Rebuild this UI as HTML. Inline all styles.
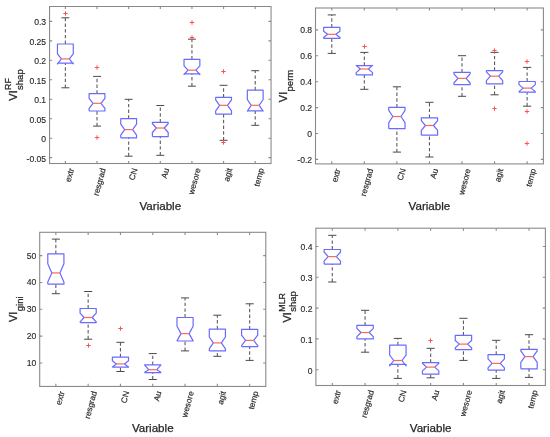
<!DOCTYPE html>
<html><head><meta charset="utf-8"><title>Boxplots</title>
<style>
html,body{margin:0;padding:0;background:#fff;}
svg{display:block;}
text{font-family:"Liberation Sans",Arial,sans-serif;fill:#262626;stroke:#262626;stroke-width:0.25px;}
text.xt{stroke-width:0.15px;}
text.yt{stroke-width:0.12px;}
</style></head>
<body>
<svg width="550" height="437" viewBox="0 0 550 437">
<defs><filter id="soft" x="0" y="0" width="100%" height="100%"><feGaussianBlur stdDeviation="0.25"/></filter></defs>
<rect width="550" height="437" fill="#fff"/>
<g filter="url(#soft)">
<line x1="65.37" y1="44" x2="65.37" y2="17.8" stroke="#5c5c5c" stroke-width="1.1" stroke-dasharray="3.4 2.3"/>
<line x1="65.37" y1="87.8" x2="65.37" y2="63.2" stroke="#5c5c5c" stroke-width="1.1" stroke-dasharray="3.4 2.3"/>
<line x1="61.42" y1="17.8" x2="69.33" y2="17.8" stroke="#4a4a4a" stroke-width="1"/>
<line x1="61.42" y1="87.8" x2="69.33" y2="87.8" stroke="#4a4a4a" stroke-width="1"/>
<polyline points="57.46,63.2 57.46,63.9 61.42,58.9 57.46,53.9 57.46,44 73.28,44 73.28,53.9 69.33,58.9 73.28,63.9 73.28,63.2 57.46,63.2" fill="none" stroke="#6a6aff" stroke-width="1.2" stroke-linejoin="round"/>
<line x1="61.42" y1="58.9" x2="69.33" y2="58.9" stroke="#ff6858" stroke-width="1.2"/>
<path d="M63.3 13.5H67.7M65.5 11.3V15.7" stroke="#ff5050" stroke-width="1" fill="none"/>
<line x1="97.01" y1="93.6" x2="97.01" y2="76.4" stroke="#5c5c5c" stroke-width="1.1" stroke-dasharray="3.4 2.3"/>
<line x1="97.01" y1="126.1" x2="97.01" y2="111" stroke="#5c5c5c" stroke-width="1.1" stroke-dasharray="3.4 2.3"/>
<line x1="93.06" y1="76.4" x2="100.97" y2="76.4" stroke="#4a4a4a" stroke-width="1"/>
<line x1="93.06" y1="126.1" x2="100.97" y2="126.1" stroke="#4a4a4a" stroke-width="1"/>
<polyline points="89.1,111 89.1,108.3 93.06,103.3 89.1,98.3 89.1,93.6 104.92,93.6 104.92,98.3 100.97,103.3 104.92,108.3 104.92,111 89.1,111" fill="none" stroke="#6a6aff" stroke-width="1.2" stroke-linejoin="round"/>
<line x1="93.06" y1="103.3" x2="100.97" y2="103.3" stroke="#ff6858" stroke-width="1.2"/>
<path d="M94.8 67.5H99.2M97 65.3V69.7" stroke="#ff5050" stroke-width="1" fill="none"/>
<path d="M94.8 137.5H99.2M97 135.3V139.7" stroke="#ff5050" stroke-width="1" fill="none"/>
<line x1="128.66" y1="118.7" x2="128.66" y2="99.3" stroke="#5c5c5c" stroke-width="1.1" stroke-dasharray="3.4 2.3"/>
<line x1="128.66" y1="156.2" x2="128.66" y2="137.8" stroke="#5c5c5c" stroke-width="1.1" stroke-dasharray="3.4 2.3"/>
<line x1="124.7" y1="99.3" x2="132.61" y2="99.3" stroke="#4a4a4a" stroke-width="1"/>
<line x1="124.7" y1="156.2" x2="132.61" y2="156.2" stroke="#4a4a4a" stroke-width="1"/>
<polyline points="120.75,137.8 120.75,135.1 124.7,129.6 120.75,124.1 120.75,118.7 136.57,118.7 136.57,124.1 132.61,129.6 136.57,135.1 136.57,137.8 120.75,137.8" fill="none" stroke="#6a6aff" stroke-width="1.2" stroke-linejoin="round"/>
<line x1="124.7" y1="129.6" x2="132.61" y2="129.6" stroke="#ff6858" stroke-width="1.2"/>
<line x1="160.3" y1="122.4" x2="160.3" y2="105.5" stroke="#5c5c5c" stroke-width="1.1" stroke-dasharray="3.4 2.3"/>
<line x1="160.3" y1="155.3" x2="160.3" y2="136.6" stroke="#5c5c5c" stroke-width="1.1" stroke-dasharray="3.4 2.3"/>
<line x1="156.34" y1="105.5" x2="164.26" y2="105.5" stroke="#4a4a4a" stroke-width="1"/>
<line x1="156.34" y1="155.3" x2="164.26" y2="155.3" stroke="#4a4a4a" stroke-width="1"/>
<polyline points="152.39,136.6 152.39,132.5 156.34,128 152.39,123.5 152.39,122.4 168.21,122.4 168.21,123.5 164.26,128 168.21,132.5 168.21,136.6 152.39,136.6" fill="none" stroke="#6a6aff" stroke-width="1.2" stroke-linejoin="round"/>
<line x1="156.34" y1="128" x2="164.26" y2="128" stroke="#ff6858" stroke-width="1.2"/>
<line x1="191.94" y1="59.3" x2="191.94" y2="39.2" stroke="#5c5c5c" stroke-width="1.1" stroke-dasharray="3.4 2.3"/>
<line x1="191.94" y1="86.2" x2="191.94" y2="73.8" stroke="#5c5c5c" stroke-width="1.1" stroke-dasharray="3.4 2.3"/>
<line x1="187.99" y1="39.2" x2="195.9" y2="39.2" stroke="#4a4a4a" stroke-width="1"/>
<line x1="187.99" y1="86.2" x2="195.9" y2="86.2" stroke="#4a4a4a" stroke-width="1"/>
<polyline points="184.03,73.8 184.03,74.5 187.99,70.2 184.03,65.9 184.03,59.3 199.85,59.3 199.85,65.9 195.9,70.2 199.85,74.5 199.85,73.8 184.03,73.8" fill="none" stroke="#6a6aff" stroke-width="1.2" stroke-linejoin="round"/>
<line x1="187.99" y1="70.2" x2="195.9" y2="70.2" stroke="#ff6858" stroke-width="1.2"/>
<path d="M189.8 22.5H194.2M192 20.3V24.7" stroke="#ff5050" stroke-width="1" fill="none"/>
<path d="M189.8 37.5H194.2M192 35.3V39.7" stroke="#ff5050" stroke-width="1" fill="none"/>
<line x1="223.59" y1="97.4" x2="223.59" y2="85.3" stroke="#5c5c5c" stroke-width="1.1" stroke-dasharray="3.4 2.3"/>
<line x1="223.59" y1="140.3" x2="223.59" y2="114.2" stroke="#5c5c5c" stroke-width="1.1" stroke-dasharray="3.4 2.3"/>
<line x1="219.63" y1="85.3" x2="227.54" y2="85.3" stroke="#4a4a4a" stroke-width="1"/>
<line x1="219.63" y1="140.3" x2="227.54" y2="140.3" stroke="#4a4a4a" stroke-width="1"/>
<polyline points="215.68,114.2 215.68,110.8 219.63,105.3 215.68,99.8 215.68,97.4 231.5,97.4 231.5,99.8 227.54,105.3 231.5,110.8 231.5,114.2 215.68,114.2" fill="none" stroke="#6a6aff" stroke-width="1.2" stroke-linejoin="round"/>
<line x1="219.63" y1="105.3" x2="227.54" y2="105.3" stroke="#ff6858" stroke-width="1.2"/>
<path d="M221.3 71.5H225.7M223.5 69.3V73.7" stroke="#ff5050" stroke-width="1" fill="none"/>
<path d="M221.3 142.5H225.7M223.5 140.3V144.7" stroke="#ff5050" stroke-width="1" fill="none"/>
<line x1="255.23" y1="90.2" x2="255.23" y2="70.7" stroke="#5c5c5c" stroke-width="1.1" stroke-dasharray="3.4 2.3"/>
<line x1="255.23" y1="125.3" x2="255.23" y2="110.9" stroke="#5c5c5c" stroke-width="1.1" stroke-dasharray="3.4 2.3"/>
<line x1="251.27" y1="70.7" x2="259.18" y2="70.7" stroke="#4a4a4a" stroke-width="1"/>
<line x1="251.27" y1="125.3" x2="259.18" y2="125.3" stroke="#4a4a4a" stroke-width="1"/>
<polyline points="247.32,110.9 247.32,111.1 251.27,105.3 247.32,99.5 247.32,90.2 263.14,90.2 263.14,99.5 259.18,105.3 263.14,111.1 263.14,110.9 247.32,110.9" fill="none" stroke="#6a6aff" stroke-width="1.2" stroke-linejoin="round"/>
<line x1="251.27" y1="105.3" x2="259.18" y2="105.3" stroke="#ff6858" stroke-width="1.2"/>
<rect x="49.55" y="6.45" width="221.5" height="157.05" fill="none" stroke="#8a8a8a" stroke-width="1.1"/>
<path d="M65.37 163.5V160.9M65.37 6.45V9.05M97.01 163.5V160.9M97.01 6.45V9.05M128.66 163.5V160.9M128.66 6.45V9.05M160.3 163.5V160.9M160.3 6.45V9.05M191.94 163.5V160.9M191.94 6.45V9.05M223.59 163.5V160.9M223.59 6.45V9.05M255.23 163.5V160.9M255.23 6.45V9.05M49.55 157.67H52.15M271.05 157.67H268.45M49.55 138.2H52.15M271.05 138.2H268.45M49.55 118.73H52.15M271.05 118.73H268.45M49.55 99.26H52.15M271.05 99.26H268.45M49.55 79.79H52.15M271.05 79.79H268.45M49.55 60.32H52.15M271.05 60.32H268.45M49.55 40.85H52.15M271.05 40.85H268.45M49.55 21.38H52.15M271.05 21.38H268.45" stroke="#8a8a8a" stroke-width="1.1" fill="none"/>
<text class="yt" x="46.15" y="161.57" text-anchor="end" font-size="8.6">-0.05</text>
<text class="yt" x="46.15" y="142.1" text-anchor="end" font-size="8.6">0</text>
<text class="yt" x="46.15" y="122.63" text-anchor="end" font-size="8.6">0.05</text>
<text class="yt" x="46.15" y="103.16" text-anchor="end" font-size="8.6">0.1</text>
<text class="yt" x="46.15" y="83.69" text-anchor="end" font-size="8.6">0.15</text>
<text class="yt" x="46.15" y="64.22" text-anchor="end" font-size="8.6">0.2</text>
<text class="yt" x="46.15" y="44.75" text-anchor="end" font-size="8.6">0.25</text>
<text class="yt" x="46.15" y="25.28" text-anchor="end" font-size="8.6">0.3</text>
<text class="xt" transform="translate(74.17 169.1) rotate(-75)" text-anchor="end" font-size="8.3">extr</text>
<text class="xt" transform="translate(105.81 169.1) rotate(-75)" text-anchor="end" font-size="8.3">resgrad</text>
<text class="xt" transform="translate(137.46 169.1) rotate(-75)" text-anchor="end" font-size="8.3">CN</text>
<text class="xt" transform="translate(169.1 169.1) rotate(-75)" text-anchor="end" font-size="8.3">Au</text>
<text class="xt" transform="translate(200.74 169.1) rotate(-75)" text-anchor="end" font-size="8.3">wesore</text>
<text class="xt" transform="translate(232.39 169.1) rotate(-75)" text-anchor="end" font-size="8.3">agit</text>
<text class="xt" transform="translate(264.03 169.1) rotate(-75)" text-anchor="end" font-size="8.3">temp</text>
<text x="160.3" y="210.1" text-anchor="middle" font-size="11.6">Variable</text>
<text transform="translate(17 100.7) rotate(-90)" font-size="11.0" style="stroke-width:0.3px">VI</text>
<text transform="translate(11.4 89.91) rotate(-90)" font-size="8.9">RF</text>
<text transform="translate(22.6 89.91) rotate(-90)" font-size="9.5">shap</text>
<line x1="331.78" y1="27.4" x2="331.78" y2="14.9" stroke="#5c5c5c" stroke-width="1.1" stroke-dasharray="3.4 2.3"/>
<line x1="331.78" y1="53.4" x2="331.78" y2="38.4" stroke="#5c5c5c" stroke-width="1.1" stroke-dasharray="3.4 2.3"/>
<line x1="327.71" y1="14.9" x2="335.85" y2="14.9" stroke="#4a4a4a" stroke-width="1"/>
<line x1="327.71" y1="53.4" x2="335.85" y2="53.4" stroke="#4a4a4a" stroke-width="1"/>
<polyline points="323.64,38.4 323.64,37.4 327.71,34.3 323.64,31.2 323.64,27.4 339.92,27.4 339.92,31.2 335.85,34.3 339.92,37.4 339.92,38.4 323.64,38.4" fill="none" stroke="#6a6aff" stroke-width="1.2" stroke-linejoin="round"/>
<line x1="327.71" y1="34.3" x2="335.85" y2="34.3" stroke="#ff6858" stroke-width="1.2"/>
<line x1="364.34" y1="65.6" x2="364.34" y2="52.4" stroke="#5c5c5c" stroke-width="1.1" stroke-dasharray="3.4 2.3"/>
<line x1="364.34" y1="89.3" x2="364.34" y2="74.9" stroke="#5c5c5c" stroke-width="1.1" stroke-dasharray="3.4 2.3"/>
<line x1="360.27" y1="52.4" x2="368.41" y2="52.4" stroke="#4a4a4a" stroke-width="1"/>
<line x1="360.27" y1="89.3" x2="368.41" y2="89.3" stroke="#4a4a4a" stroke-width="1"/>
<polyline points="356.2,74.9 356.2,72.6 360.27,69 356.2,65.4 356.2,65.6 372.48,65.6 372.48,65.4 368.41,69 372.48,72.6 372.48,74.9 356.2,74.9" fill="none" stroke="#6a6aff" stroke-width="1.2" stroke-linejoin="round"/>
<line x1="360.27" y1="69" x2="368.41" y2="69" stroke="#ff6858" stroke-width="1.2"/>
<path d="M362.3 46.5H366.7M364.5 44.3V48.7" stroke="#ff5050" stroke-width="1" fill="none"/>
<line x1="396.89" y1="107.4" x2="396.89" y2="86.8" stroke="#5c5c5c" stroke-width="1.1" stroke-dasharray="3.4 2.3"/>
<line x1="396.89" y1="152.1" x2="396.89" y2="128.7" stroke="#5c5c5c" stroke-width="1.1" stroke-dasharray="3.4 2.3"/>
<line x1="392.82" y1="86.8" x2="400.96" y2="86.8" stroke="#4a4a4a" stroke-width="1"/>
<line x1="392.82" y1="152.1" x2="400.96" y2="152.1" stroke="#4a4a4a" stroke-width="1"/>
<polyline points="388.75,128.7 388.75,122.7 392.82,116.5 388.75,110.3 388.75,107.4 405.03,107.4 405.03,110.3 400.96,116.5 405.03,122.7 405.03,128.7 388.75,128.7" fill="none" stroke="#6a6aff" stroke-width="1.2" stroke-linejoin="round"/>
<line x1="392.82" y1="116.5" x2="400.96" y2="116.5" stroke="#ff6858" stroke-width="1.2"/>
<line x1="429.45" y1="117.8" x2="429.45" y2="102.3" stroke="#5c5c5c" stroke-width="1.1" stroke-dasharray="3.4 2.3"/>
<line x1="429.45" y1="157" x2="429.45" y2="135.2" stroke="#5c5c5c" stroke-width="1.1" stroke-dasharray="3.4 2.3"/>
<line x1="425.38" y1="102.3" x2="433.52" y2="102.3" stroke="#4a4a4a" stroke-width="1"/>
<line x1="425.38" y1="157" x2="433.52" y2="157" stroke="#4a4a4a" stroke-width="1"/>
<polyline points="421.31,135.2 421.31,130.4 425.38,125.5 421.31,120.6 421.31,117.8 437.59,117.8 437.59,120.6 433.52,125.5 437.59,130.4 437.59,135.2 421.31,135.2" fill="none" stroke="#6a6aff" stroke-width="1.2" stroke-linejoin="round"/>
<line x1="425.38" y1="125.5" x2="433.52" y2="125.5" stroke="#ff6858" stroke-width="1.2"/>
<line x1="462.01" y1="72.3" x2="462.01" y2="55.7" stroke="#5c5c5c" stroke-width="1.1" stroke-dasharray="3.4 2.3"/>
<line x1="462.01" y1="96.3" x2="462.01" y2="84.6" stroke="#5c5c5c" stroke-width="1.1" stroke-dasharray="3.4 2.3"/>
<line x1="457.94" y1="55.7" x2="466.08" y2="55.7" stroke="#4a4a4a" stroke-width="1"/>
<line x1="457.94" y1="96.3" x2="466.08" y2="96.3" stroke="#4a4a4a" stroke-width="1"/>
<polyline points="453.87,84.6 453.87,83 457.94,78.4 453.87,73.8 453.87,72.3 470.15,72.3 470.15,73.8 466.08,78.4 470.15,83 470.15,84.6 453.87,84.6" fill="none" stroke="#6a6aff" stroke-width="1.2" stroke-linejoin="round"/>
<line x1="457.94" y1="78.4" x2="466.08" y2="78.4" stroke="#ff6858" stroke-width="1.2"/>
<line x1="494.56" y1="70.7" x2="494.56" y2="52.4" stroke="#5c5c5c" stroke-width="1.1" stroke-dasharray="3.4 2.3"/>
<line x1="494.56" y1="94.8" x2="494.56" y2="83.9" stroke="#5c5c5c" stroke-width="1.1" stroke-dasharray="3.4 2.3"/>
<line x1="490.49" y1="52.4" x2="498.63" y2="52.4" stroke="#4a4a4a" stroke-width="1"/>
<line x1="490.49" y1="94.8" x2="498.63" y2="94.8" stroke="#4a4a4a" stroke-width="1"/>
<polyline points="486.42,83.9 486.42,80.6 490.49,76.2 486.42,71.8 486.42,70.7 502.7,70.7 502.7,71.8 498.63,76.2 502.7,80.6 502.7,83.9 486.42,83.9" fill="none" stroke="#6a6aff" stroke-width="1.2" stroke-linejoin="round"/>
<line x1="490.49" y1="76.2" x2="498.63" y2="76.2" stroke="#ff6858" stroke-width="1.2"/>
<path d="M492.3 50.5H496.7M494.5 48.3V52.7" stroke="#ff5050" stroke-width="1" fill="none"/>
<path d="M492.3 108.5H496.7M494.5 106.3V110.7" stroke="#ff5050" stroke-width="1" fill="none"/>
<line x1="527.12" y1="81.5" x2="527.12" y2="67.4" stroke="#5c5c5c" stroke-width="1.1" stroke-dasharray="3.4 2.3"/>
<line x1="527.12" y1="106.2" x2="527.12" y2="92.2" stroke="#5c5c5c" stroke-width="1.1" stroke-dasharray="3.4 2.3"/>
<line x1="523.05" y1="67.4" x2="531.19" y2="67.4" stroke="#4a4a4a" stroke-width="1"/>
<line x1="523.05" y1="106.2" x2="531.19" y2="106.2" stroke="#4a4a4a" stroke-width="1"/>
<polyline points="518.98,92.2 518.98,91.6 523.05,88.1 518.98,84.6 518.98,81.5 535.26,81.5 535.26,84.6 531.19,88.1 535.26,91.6 535.26,92.2 518.98,92.2" fill="none" stroke="#6a6aff" stroke-width="1.2" stroke-linejoin="round"/>
<line x1="523.05" y1="88.1" x2="531.19" y2="88.1" stroke="#ff6858" stroke-width="1.2"/>
<path d="M524.8 61.5H529.2M527 59.3V63.7" stroke="#ff5050" stroke-width="1" fill="none"/>
<path d="M524.8 111.5H529.2M527 109.3V113.7" stroke="#ff5050" stroke-width="1" fill="none"/>
<path d="M524.8 143.5H529.2M527 141.3V145.7" stroke="#ff5050" stroke-width="1" fill="none"/>
<rect x="315.5" y="8" width="227.9" height="155.9" fill="none" stroke="#8a8a8a" stroke-width="1.1"/>
<path d="M331.78 163.9V161.3M331.78 8V10.6M364.34 163.9V161.3M364.34 8V10.6M396.89 163.9V161.3M396.89 8V10.6M429.45 163.9V161.3M429.45 8V10.6M462.01 163.9V161.3M462.01 8V10.6M494.56 163.9V161.3M494.56 8V10.6M527.12 163.9V161.3M527.12 8V10.6M315.5 159.4H318.1M543.4 159.4H540.8M315.5 133.5H318.1M543.4 133.5H540.8M315.5 107.6H318.1M543.4 107.6H540.8M315.5 81.7H318.1M543.4 81.7H540.8M315.5 55.8H318.1M543.4 55.8H540.8M315.5 29.9H318.1M543.4 29.9H540.8" stroke="#8a8a8a" stroke-width="1.1" fill="none"/>
<text class="yt" x="312.1" y="162.5" text-anchor="end" font-size="8.6">-0.2</text>
<text class="yt" x="312.1" y="136.6" text-anchor="end" font-size="8.6">0</text>
<text class="yt" x="312.1" y="110.7" text-anchor="end" font-size="8.6">0.2</text>
<text class="yt" x="312.1" y="84.8" text-anchor="end" font-size="8.6">0.4</text>
<text class="yt" x="312.1" y="58.9" text-anchor="end" font-size="8.6">0.6</text>
<text class="yt" x="312.1" y="33" text-anchor="end" font-size="8.6">0.8</text>
<text class="xt" transform="translate(340.58 169.5) rotate(-75)" text-anchor="end" font-size="8.3">extr</text>
<text class="xt" transform="translate(373.14 169.5) rotate(-75)" text-anchor="end" font-size="8.3">resgrad</text>
<text class="xt" transform="translate(405.69 169.5) rotate(-75)" text-anchor="end" font-size="8.3">CN</text>
<text class="xt" transform="translate(438.25 169.5) rotate(-75)" text-anchor="end" font-size="8.3">Au</text>
<text class="xt" transform="translate(470.81 169.5) rotate(-75)" text-anchor="end" font-size="8.3">wesore</text>
<text class="xt" transform="translate(503.36 169.5) rotate(-75)" text-anchor="end" font-size="8.3">agit</text>
<text class="xt" transform="translate(535.92 169.5) rotate(-75)" text-anchor="end" font-size="8.3">temp</text>
<text x="429.45" y="209.9" text-anchor="middle" font-size="11.6">Variable</text>
<text transform="translate(287.4 102.2) rotate(-90)" font-size="11.0" style="stroke-width:0.3px">VI</text>
<text transform="translate(293 91.41) rotate(-90)" font-size="9.5">perm</text>
<line x1="55.85" y1="253.9" x2="55.85" y2="239.1" stroke="#5c5c5c" stroke-width="1.1" stroke-dasharray="3.4 2.3"/>
<line x1="55.85" y1="293.7" x2="55.85" y2="284.2" stroke="#5c5c5c" stroke-width="1.1" stroke-dasharray="3.4 2.3"/>
<line x1="51.81" y1="239.1" x2="59.89" y2="239.1" stroke="#4a4a4a" stroke-width="1"/>
<line x1="51.81" y1="293.7" x2="59.89" y2="293.7" stroke="#4a4a4a" stroke-width="1"/>
<polyline points="47.78,284.2 47.78,282 51.81,272.9 47.78,263.8 47.78,253.9 63.93,253.9 63.93,263.8 59.89,272.9 63.93,282 63.93,284.2 47.78,284.2" fill="none" stroke="#6a6aff" stroke-width="1.2" stroke-linejoin="round"/>
<line x1="51.81" y1="272.9" x2="59.89" y2="272.9" stroke="#ff6858" stroke-width="1.2"/>
<line x1="88.15" y1="308.5" x2="88.15" y2="291.5" stroke="#5c5c5c" stroke-width="1.1" stroke-dasharray="3.4 2.3"/>
<line x1="88.15" y1="339.2" x2="88.15" y2="322.6" stroke="#5c5c5c" stroke-width="1.1" stroke-dasharray="3.4 2.3"/>
<line x1="84.11" y1="291.5" x2="92.19" y2="291.5" stroke="#4a4a4a" stroke-width="1"/>
<line x1="84.11" y1="339.2" x2="92.19" y2="339.2" stroke="#4a4a4a" stroke-width="1"/>
<polyline points="80.08,322.6 80.08,321.8 84.11,317.5 80.08,313.2 80.08,308.5 96.23,308.5 96.23,313.2 92.19,317.5 96.23,321.8 96.23,322.6 80.08,322.6" fill="none" stroke="#6a6aff" stroke-width="1.2" stroke-linejoin="round"/>
<line x1="84.11" y1="317.5" x2="92.19" y2="317.5" stroke="#ff6858" stroke-width="1.2"/>
<path d="M86.3 345.5H90.7M88.5 343.3V347.7" stroke="#ff5050" stroke-width="1" fill="none"/>
<line x1="120.45" y1="357.1" x2="120.45" y2="342.3" stroke="#5c5c5c" stroke-width="1.1" stroke-dasharray="3.4 2.3"/>
<line x1="120.45" y1="371.5" x2="120.45" y2="367.2" stroke="#5c5c5c" stroke-width="1.1" stroke-dasharray="3.4 2.3"/>
<line x1="116.41" y1="342.3" x2="124.49" y2="342.3" stroke="#4a4a4a" stroke-width="1"/>
<line x1="116.41" y1="371.5" x2="124.49" y2="371.5" stroke="#4a4a4a" stroke-width="1"/>
<polyline points="112.38,367.2 112.38,367 116.41,363.9 112.38,360.8 112.38,357.1 128.53,357.1 128.53,360.8 124.49,363.9 128.53,367 128.53,367.2 112.38,367.2" fill="none" stroke="#6a6aff" stroke-width="1.2" stroke-linejoin="round"/>
<line x1="116.41" y1="363.9" x2="124.49" y2="363.9" stroke="#ff6858" stroke-width="1.2"/>
<path d="M118.3 328.5H122.7M120.5 326.3V330.7" stroke="#ff5050" stroke-width="1" fill="none"/>
<line x1="152.75" y1="364.8" x2="152.75" y2="353.6" stroke="#5c5c5c" stroke-width="1.1" stroke-dasharray="3.4 2.3"/>
<line x1="152.75" y1="379.5" x2="152.75" y2="372.7" stroke="#5c5c5c" stroke-width="1.1" stroke-dasharray="3.4 2.3"/>
<line x1="148.71" y1="353.6" x2="156.79" y2="353.6" stroke="#4a4a4a" stroke-width="1"/>
<line x1="148.71" y1="379.5" x2="156.79" y2="379.5" stroke="#4a4a4a" stroke-width="1"/>
<polyline points="144.68,372.7 144.68,372.2 148.71,369.7 144.68,365.2 144.68,364.8 160.82,364.8 160.82,365.2 156.79,369.7 160.82,372.2 160.82,372.7 144.68,372.7" fill="none" stroke="#6a6aff" stroke-width="1.2" stroke-linejoin="round"/>
<line x1="148.71" y1="369.7" x2="156.79" y2="369.7" stroke="#ff6858" stroke-width="1.2"/>
<line x1="185.05" y1="317.5" x2="185.05" y2="297.9" stroke="#5c5c5c" stroke-width="1.1" stroke-dasharray="3.4 2.3"/>
<line x1="185.05" y1="350.9" x2="185.05" y2="341" stroke="#5c5c5c" stroke-width="1.1" stroke-dasharray="3.4 2.3"/>
<line x1="181.01" y1="297.9" x2="189.09" y2="297.9" stroke="#4a4a4a" stroke-width="1"/>
<line x1="181.01" y1="350.9" x2="189.09" y2="350.9" stroke="#4a4a4a" stroke-width="1"/>
<polyline points="176.98,341 176.98,340.9 181.01,333.6 176.98,326.3 176.98,317.5 193.12,317.5 193.12,326.3 189.09,333.6 193.12,340.9 193.12,341 176.98,341" fill="none" stroke="#6a6aff" stroke-width="1.2" stroke-linejoin="round"/>
<line x1="181.01" y1="333.6" x2="189.09" y2="333.6" stroke="#ff6858" stroke-width="1.2"/>
<line x1="217.35" y1="329.1" x2="217.35" y2="315.2" stroke="#5c5c5c" stroke-width="1.1" stroke-dasharray="3.4 2.3"/>
<line x1="217.35" y1="356.3" x2="217.35" y2="350.9" stroke="#5c5c5c" stroke-width="1.1" stroke-dasharray="3.4 2.3"/>
<line x1="213.31" y1="315.2" x2="221.39" y2="315.2" stroke="#4a4a4a" stroke-width="1"/>
<line x1="213.31" y1="356.3" x2="221.39" y2="356.3" stroke="#4a4a4a" stroke-width="1"/>
<polyline points="209.28,350.9 209.28,348.8 213.31,342.9 209.28,337 209.28,329.1 225.43,329.1 225.43,337 221.39,342.9 225.43,348.8 225.43,350.9 209.28,350.9" fill="none" stroke="#6a6aff" stroke-width="1.2" stroke-linejoin="round"/>
<line x1="213.31" y1="342.9" x2="221.39" y2="342.9" stroke="#ff6858" stroke-width="1.2"/>
<line x1="249.65" y1="329.3" x2="249.65" y2="303.8" stroke="#5c5c5c" stroke-width="1.1" stroke-dasharray="3.4 2.3"/>
<line x1="249.65" y1="360.4" x2="249.65" y2="346.6" stroke="#5c5c5c" stroke-width="1.1" stroke-dasharray="3.4 2.3"/>
<line x1="245.61" y1="303.8" x2="253.69" y2="303.8" stroke="#4a4a4a" stroke-width="1"/>
<line x1="245.61" y1="360.4" x2="253.69" y2="360.4" stroke="#4a4a4a" stroke-width="1"/>
<polyline points="241.58,346.6 241.58,345.6 245.61,340.4 241.58,335.2 241.58,329.3 257.73,329.3 257.73,335.2 253.69,340.4 257.73,345.6 257.73,346.6 241.58,346.6" fill="none" stroke="#6a6aff" stroke-width="1.2" stroke-linejoin="round"/>
<line x1="245.61" y1="340.4" x2="253.69" y2="340.4" stroke="#ff6858" stroke-width="1.2"/>
<rect x="39.7" y="232.3" width="226.1" height="154.15" fill="none" stroke="#8a8a8a" stroke-width="1.1"/>
<path d="M55.85 386.45V383.85M55.85 232.3V234.9M88.15 386.45V383.85M88.15 232.3V234.9M120.45 386.45V383.85M120.45 232.3V234.9M152.75 386.45V383.85M152.75 232.3V234.9M185.05 386.45V383.85M185.05 232.3V234.9M217.35 386.45V383.85M217.35 232.3V234.9M249.65 386.45V383.85M249.65 232.3V234.9M39.7 363H42.3M265.8 363H263.2M39.7 336.15H42.3M265.8 336.15H263.2M39.7 309.3H42.3M265.8 309.3H263.2M39.7 282.45H42.3M265.8 282.45H263.2M39.7 255.6H42.3M265.8 255.6H263.2" stroke="#8a8a8a" stroke-width="1.1" fill="none"/>
<text class="yt" x="36.3" y="366" text-anchor="end" font-size="8.6">10</text>
<text class="yt" x="36.3" y="339.15" text-anchor="end" font-size="8.6">20</text>
<text class="yt" x="36.3" y="312.3" text-anchor="end" font-size="8.6">30</text>
<text class="yt" x="36.3" y="285.45" text-anchor="end" font-size="8.6">40</text>
<text class="yt" x="36.3" y="258.6" text-anchor="end" font-size="8.6">50</text>
<text class="xt" transform="translate(64.65 392.05) rotate(-75)" text-anchor="end" font-size="8.3">extr</text>
<text class="xt" transform="translate(96.95 392.05) rotate(-75)" text-anchor="end" font-size="8.3">resgrad</text>
<text class="xt" transform="translate(129.25 392.05) rotate(-75)" text-anchor="end" font-size="8.3">CN</text>
<text class="xt" transform="translate(161.55 392.05) rotate(-75)" text-anchor="end" font-size="8.3">Au</text>
<text class="xt" transform="translate(193.85 392.05) rotate(-75)" text-anchor="end" font-size="8.3">wesore</text>
<text class="xt" transform="translate(226.15 392.05) rotate(-75)" text-anchor="end" font-size="8.3">agit</text>
<text class="xt" transform="translate(258.45 392.05) rotate(-75)" text-anchor="end" font-size="8.3">temp</text>
<text x="152.75" y="431.9" text-anchor="middle" font-size="11.6">Variable</text>
<text transform="translate(17.1 322) rotate(-90)" font-size="11.0" style="stroke-width:0.3px">VI</text>
<text transform="translate(22.7 311.21) rotate(-90)" font-size="9.5">gini</text>
<line x1="332.29" y1="249.5" x2="332.29" y2="235.3" stroke="#5c5c5c" stroke-width="1.1" stroke-dasharray="3.4 2.3"/>
<line x1="332.29" y1="282" x2="332.29" y2="264.1" stroke="#5c5c5c" stroke-width="1.1" stroke-dasharray="3.4 2.3"/>
<line x1="328.19" y1="235.3" x2="336.39" y2="235.3" stroke="#4a4a4a" stroke-width="1"/>
<line x1="328.19" y1="282" x2="336.39" y2="282" stroke="#4a4a4a" stroke-width="1"/>
<polyline points="324.1,264.1 324.1,261.2 328.19,256.6 324.1,252 324.1,249.5 340.49,249.5 340.49,252 336.39,256.6 340.49,261.2 340.49,264.1 324.1,264.1" fill="none" stroke="#6a6aff" stroke-width="1.2" stroke-linejoin="round"/>
<line x1="328.19" y1="256.6" x2="336.39" y2="256.6" stroke="#ff6858" stroke-width="1.2"/>
<line x1="365.08" y1="325.4" x2="365.08" y2="310.3" stroke="#5c5c5c" stroke-width="1.1" stroke-dasharray="3.4 2.3"/>
<line x1="365.08" y1="352.2" x2="365.08" y2="338.9" stroke="#5c5c5c" stroke-width="1.1" stroke-dasharray="3.4 2.3"/>
<line x1="360.98" y1="310.3" x2="369.18" y2="310.3" stroke="#4a4a4a" stroke-width="1"/>
<line x1="360.98" y1="352.2" x2="369.18" y2="352.2" stroke="#4a4a4a" stroke-width="1"/>
<polyline points="356.88,338.9 356.88,336.7 360.98,332.5 356.88,328.3 356.88,325.4 373.27,325.4 373.27,328.3 369.18,332.5 373.27,336.7 373.27,338.9 356.88,338.9" fill="none" stroke="#6a6aff" stroke-width="1.2" stroke-linejoin="round"/>
<line x1="360.98" y1="332.5" x2="369.18" y2="332.5" stroke="#ff6858" stroke-width="1.2"/>
<line x1="397.86" y1="345.1" x2="397.86" y2="338.4" stroke="#5c5c5c" stroke-width="1.1" stroke-dasharray="3.4 2.3"/>
<line x1="397.86" y1="378.4" x2="397.86" y2="364.3" stroke="#5c5c5c" stroke-width="1.1" stroke-dasharray="3.4 2.3"/>
<line x1="393.77" y1="338.4" x2="401.96" y2="338.4" stroke="#4a4a4a" stroke-width="1"/>
<line x1="393.77" y1="378.4" x2="401.96" y2="378.4" stroke="#4a4a4a" stroke-width="1"/>
<polyline points="389.67,364.3 389.67,365.8 393.77,360.5 389.67,355.2 389.67,345.1 406.06,345.1 406.06,355.2 401.96,360.5 406.06,365.8 406.06,364.3 389.67,364.3" fill="none" stroke="#6a6aff" stroke-width="1.2" stroke-linejoin="round"/>
<line x1="393.77" y1="360.5" x2="401.96" y2="360.5" stroke="#ff6858" stroke-width="1.2"/>
<line x1="430.65" y1="362.7" x2="430.65" y2="348.3" stroke="#5c5c5c" stroke-width="1.1" stroke-dasharray="3.4 2.3"/>
<line x1="430.65" y1="377.8" x2="430.65" y2="374.2" stroke="#5c5c5c" stroke-width="1.1" stroke-dasharray="3.4 2.3"/>
<line x1="426.55" y1="348.3" x2="434.75" y2="348.3" stroke="#4a4a4a" stroke-width="1"/>
<line x1="426.55" y1="377.8" x2="434.75" y2="377.8" stroke="#4a4a4a" stroke-width="1"/>
<polyline points="422.45,374.2 422.45,370.9 426.55,367.1 422.45,363.3 422.45,362.7 438.85,362.7 438.85,363.3 434.75,367.1 438.85,370.9 438.85,374.2 422.45,374.2" fill="none" stroke="#6a6aff" stroke-width="1.2" stroke-linejoin="round"/>
<line x1="426.55" y1="367.1" x2="434.75" y2="367.1" stroke="#ff6858" stroke-width="1.2"/>
<path d="M428.3 340.5H432.7M430.5 338.3V342.7" stroke="#ff5050" stroke-width="1" fill="none"/>
<line x1="463.44" y1="335.4" x2="463.44" y2="318.3" stroke="#5c5c5c" stroke-width="1.1" stroke-dasharray="3.4 2.3"/>
<line x1="463.44" y1="360.4" x2="463.44" y2="349.6" stroke="#5c5c5c" stroke-width="1.1" stroke-dasharray="3.4 2.3"/>
<line x1="459.34" y1="318.3" x2="467.53" y2="318.3" stroke="#4a4a4a" stroke-width="1"/>
<line x1="459.34" y1="360.4" x2="467.53" y2="360.4" stroke="#4a4a4a" stroke-width="1"/>
<polyline points="455.24,349.6 455.24,347.7 459.34,344.1 455.24,340.5 455.24,335.4 471.63,335.4 471.63,340.5 467.53,344.1 471.63,347.7 471.63,349.6 455.24,349.6" fill="none" stroke="#6a6aff" stroke-width="1.2" stroke-linejoin="round"/>
<line x1="459.34" y1="344.1" x2="467.53" y2="344.1" stroke="#ff6858" stroke-width="1.2"/>
<line x1="496.22" y1="354.7" x2="496.22" y2="340.3" stroke="#5c5c5c" stroke-width="1.1" stroke-dasharray="3.4 2.3"/>
<line x1="496.22" y1="378.4" x2="496.22" y2="370.1" stroke="#5c5c5c" stroke-width="1.1" stroke-dasharray="3.4 2.3"/>
<line x1="492.12" y1="340.3" x2="500.32" y2="340.3" stroke="#4a4a4a" stroke-width="1"/>
<line x1="492.12" y1="378.4" x2="500.32" y2="378.4" stroke="#4a4a4a" stroke-width="1"/>
<polyline points="488.02,370.1 488.02,367.9 492.12,363.4 488.02,358.9 488.02,354.7 504.42,354.7 504.42,358.9 500.32,363.4 504.42,367.9 504.42,370.1 488.02,370.1" fill="none" stroke="#6a6aff" stroke-width="1.2" stroke-linejoin="round"/>
<line x1="492.12" y1="363.4" x2="500.32" y2="363.4" stroke="#ff6858" stroke-width="1.2"/>
<line x1="529.01" y1="349.4" x2="529.01" y2="334.7" stroke="#5c5c5c" stroke-width="1.1" stroke-dasharray="3.4 2.3"/>
<line x1="529.01" y1="377.4" x2="529.01" y2="368.8" stroke="#5c5c5c" stroke-width="1.1" stroke-dasharray="3.4 2.3"/>
<line x1="524.91" y1="334.7" x2="533.11" y2="334.7" stroke="#4a4a4a" stroke-width="1"/>
<line x1="524.91" y1="377.4" x2="533.11" y2="377.4" stroke="#4a4a4a" stroke-width="1"/>
<polyline points="520.81,368.8 520.81,362.3 524.91,356.6 520.81,350.9 520.81,349.4 537.2,349.4 537.2,350.9 533.11,356.6 537.2,362.3 537.2,368.8 520.81,368.8" fill="none" stroke="#6a6aff" stroke-width="1.2" stroke-linejoin="round"/>
<line x1="524.91" y1="356.6" x2="533.11" y2="356.6" stroke="#ff6858" stroke-width="1.2"/>
<rect x="315.9" y="228.2" width="229.5" height="157.3" fill="none" stroke="#8a8a8a" stroke-width="1.1"/>
<path d="M332.29 385.5V382.9M332.29 228.2V230.8M365.08 385.5V382.9M365.08 228.2V230.8M397.86 385.5V382.9M397.86 228.2V230.8M430.65 385.5V382.9M430.65 228.2V230.8M463.44 385.5V382.9M463.44 228.2V230.8M496.22 385.5V382.9M496.22 228.2V230.8M529.01 385.5V382.9M529.01 228.2V230.8M315.9 369.7H318.5M545.4 369.7H542.8M315.9 338.9H318.5M545.4 338.9H542.8M315.9 308.1H318.5M545.4 308.1H542.8M315.9 277.3H318.5M545.4 277.3H542.8M315.9 246.5H318.5M545.4 246.5H542.8" stroke="#8a8a8a" stroke-width="1.1" fill="none"/>
<text class="yt" x="312.5" y="373.6" text-anchor="end" font-size="8.6">0</text>
<text class="yt" x="312.5" y="342.8" text-anchor="end" font-size="8.6">0.1</text>
<text class="yt" x="312.5" y="312" text-anchor="end" font-size="8.6">0.2</text>
<text class="yt" x="312.5" y="281.2" text-anchor="end" font-size="8.6">0.3</text>
<text class="yt" x="312.5" y="250.4" text-anchor="end" font-size="8.6">0.4</text>
<text class="xt" transform="translate(341.09 391.1) rotate(-75)" text-anchor="end" font-size="8.3">extr</text>
<text class="xt" transform="translate(373.88 391.1) rotate(-75)" text-anchor="end" font-size="8.3">resgrad</text>
<text class="xt" transform="translate(406.66 391.1) rotate(-75)" text-anchor="end" font-size="8.3">CN</text>
<text class="xt" transform="translate(439.45 391.1) rotate(-75)" text-anchor="end" font-size="8.3">Au</text>
<text class="xt" transform="translate(472.24 391.1) rotate(-75)" text-anchor="end" font-size="8.3">wesore</text>
<text class="xt" transform="translate(505.02 391.1) rotate(-75)" text-anchor="end" font-size="8.3">agit</text>
<text class="xt" transform="translate(537.81 391.1) rotate(-75)" text-anchor="end" font-size="8.3">temp</text>
<text x="430.65" y="431.9" text-anchor="middle" font-size="11.6">Variable</text>
<text transform="translate(290.7 322.5) rotate(-90)" font-size="11.0" style="stroke-width:0.3px">VI</text>
<text transform="translate(285.1 311.71) rotate(-90)" font-size="8.9">MLR</text>
<text transform="translate(296.3 311.71) rotate(-90)" font-size="9.5">shap</text>
</g>
</svg>
</body></html>
